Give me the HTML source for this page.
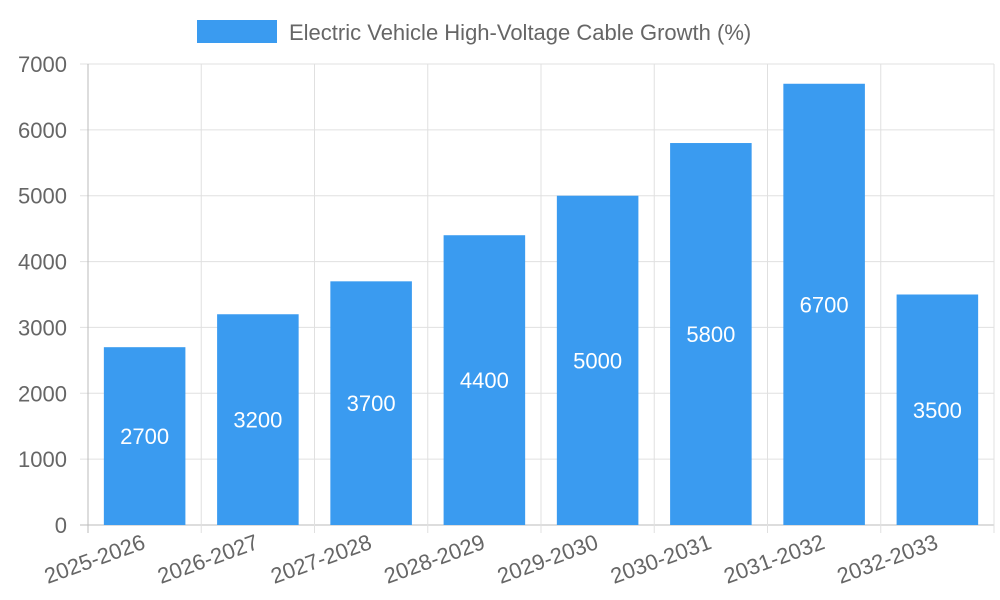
<!DOCTYPE html>
<html><head><meta charset="utf-8"><style>
html,body{margin:0;padding:0;background:#fff;width:1000px;height:600px;overflow:hidden}
svg text{font-family:"Liberation Sans",sans-serif}
</style></head><body>
<svg id="chart" width="1000" height="600">
<g>
<rect x="197" y="20" width="80" height="23" fill="#3a9bf0"></rect>
<text x="289" y="40" font-size="22" fill="#666">Electric Vehicle High-Voltage Cable Growth (%)</text>
</g>
<g id="grid"></g>
<g id="bars"></g>
<g id="labels"></g>
<g id="axes"></g>
</svg>
<script>
const categories=["2025-2026","2026-2027","2027-2028","2028-2029","2029-2030","2030-2031","2031-2032","2032-2033"];
const values=[2700,3200,3700,4400,5000,5800,6700,3500];
const yTicks=[0,1000,2000,3000,4000,5000,6000,7000];
const L=88,R=994,T=64,B=525,YMAX=7000;
const NS="http://www.w3.org/2000/svg";
const band=(R-L)/categories.length;
const x=i=>L+band*i;
const y=v=>B-(v/YMAX)*(B-T);
function mk(tag,attrs,parent){const e=document.createElementNS(NS,tag);for(const k in attrs)e.setAttribute(k,attrs[k]);document.getElementById(parent).appendChild(e);return e;}
yTicks.forEach(t=>{
  const g=mk('line',{x1:L-8,x2:R,y1:y(t),y2:y(t),stroke:t===0?'#bbb':'#e0e0e0','stroke-width':1},'grid');
  
  
  const tx=mk('text',{x:67,y:y(t)+8,'text-anchor':'end','font-size':22,fill:'#666'},'axes');
  tx.textContent=t;
  
  
});
for(let i=0;i<=categories.length;i++){
  const g=mk('line',{x1:x(i),x2:x(i),y1:T,y2:B+8,stroke:i===0?'#bbb':'#e0e0e0','stroke-width':1},'grid');
  
  
}
categories.forEach((c,i)=>{
  const bw=band*0.72,cx=x(i)+band/2;
  const r=mk('rect',{x:cx-bw/2,y:y(values[i]),width:bw,height:B-y(values[i]),fill:'#3a9bf0'},'bars');
  
  
  const vt=mk('text',{x:cx,y:(y(values[i])+B)/2+8,'text-anchor':'middle','font-size':22,fill:'#fff'},'labels');
  vt.textContent=values[i];
  
  
  const lt=mk('text',{x:cx+2,y:548,'text-anchor':'end','font-size':22,fill:'#666',transform:`rotate(-20 ${cx+2} 548)`},'axes');
  lt.textContent=c;
  
  
});
</script>
</body></html>
